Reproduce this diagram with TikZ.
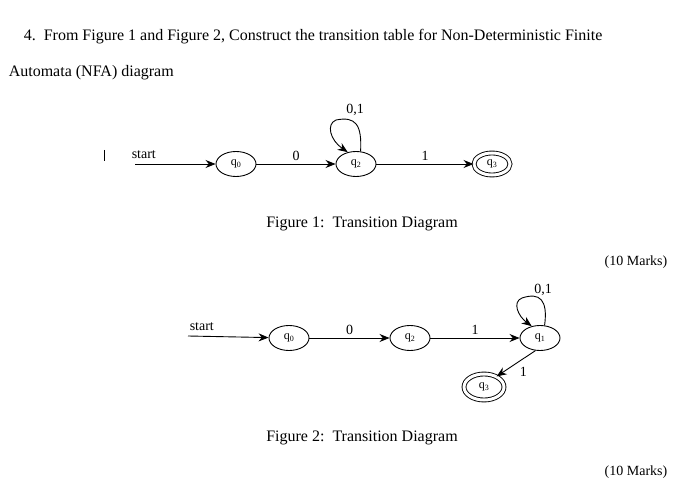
\documentclass[tikz,border=0pt]{standalone}
\usepackage{fontspec}
\setmainfont{Liberation Serif}
\usetikzlibrary{arrows.meta,shapes.geometric}

\begin{document}
\begin{tikzpicture}[x=1pt,y=-1pt,line width=0.9pt,
        state/.style={draw,ellipse,minimum width=40pt,minimum height=25pt,inner sep=0pt,font=\fontsize{12}{14}\selectfont},
        accept/.style={draw,ellipse,minimum width=36pt,minimum height=22pt,inner sep=0pt,font=\fontsize{12}{14}\selectfont,double=white,double distance=3pt},
        edge/.style={-{Stealth[length=10pt,width=8pt]}},
        lbl/.style={font=\fontsize{14}{16}\selectfont},
        body/.style={font=\fontsize{16}{19}\selectfont}]
        % Page frame
        \useasboundingbox (0,0) rectangle (681,492);

        % Question text
        \node[body,anchor=west] (qtext) at (20,37) {4.\ \ From Figure 1 and Figure 2, Construct the transition table for Non-Deterministic Finite};
        \node[body,anchor=west] (qtext2) at (5,73) {Automata (NFA) diagram};

        % Figure 1
        \draw (104,150) -- (104,161);
        \node[lbl,anchor=west] (startA) at (128,155) {start};
        \coordinate (inA) at (135,164);
        \node[state] (Aq0) at (236,164) {q\textsubscript{0}};
        \node[state] (Aq2) at (356,164) {q\textsubscript{2}};
        \node[accept] (Aq3) at (492,164) {q\textsubscript{3}};
        \draw[edge] (inA) -- (Aq0);
        \draw[edge] (Aq0) -- node[lbl,above] {0} (Aq2);
        \draw[edge] (Aq2) -- node[lbl,above] {1} (Aq3);
        \draw[edge] (Aq2.70) .. controls (362,125) and (356,116) .. (336,120)
            .. controls (326,124) and (330,140) .. (Aq2.125);
        \node[lbl] (loopA) at (355,110) {0,1};
        \node[body] (capA) at (362,224) {Figure 1:\ \ Transition Diagram};
        \node[lbl] (marksA) at (636,262) {(10 Marks)};

        % Figure 2
        \node[lbl,anchor=west] (startB) at (186,327) {start};
        \coordinate (inB) at (188,336);
        \node[state] (Bq0) at (289,338) {q\textsubscript{0}};
        \node[state] (Bq2) at (410,338) {q\textsubscript{2}};
        \node[state] (Bq1) at (540,338) {q\textsubscript{1}};
        \node[accept,minimum width=40pt,minimum height=26pt] (Bq3) at (484,387) {q\textsubscript{3}};
        \draw[edge] (inB) -- (Bq0);
        \draw[edge] (Bq0) -- node[lbl,above] {0} (Bq2);
        \draw[edge] (Bq2) -- node[lbl,above] {1} (Bq1);
        \draw[edge] (Bq1.250) -- node[lbl,below right] {1} (Bq3.40);
        \draw[edge] (Bq1.70) .. controls (548,300) and (540,292) .. (522,298)
            .. controls (512,302) and (518,316) .. (Bq1.125);
        \node[lbl] (loopB) at (543,290) {0,1};
        \node[body] (capB) at (362,438) {Figure 2:\ \ Transition Diagram};
        \node[lbl] (marksB) at (636,472) {(10 Marks)};
\end{tikzpicture}
\end{document}
